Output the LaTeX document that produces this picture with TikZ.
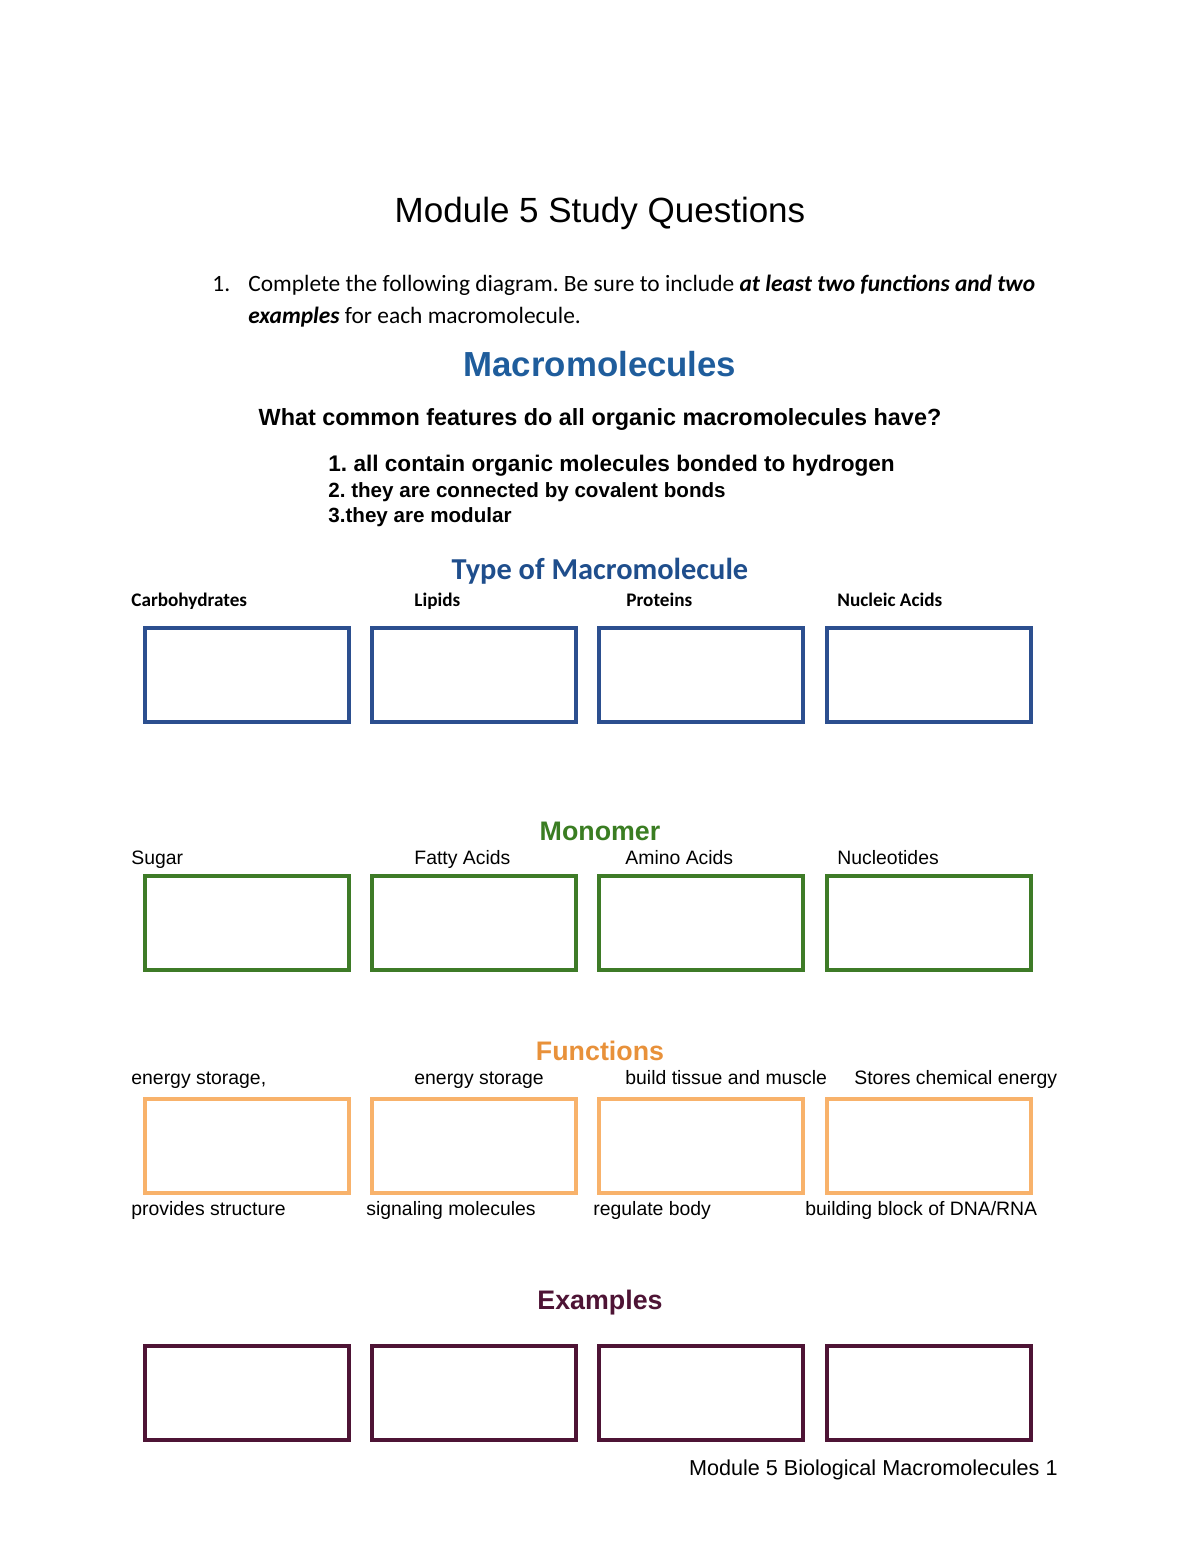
\documentclass[tikz,border=0pt]{standalone}
\usepackage{fontspec}
\setmainfont{Liberation Sans}
\newfontfamily\calfont{Carlito}
\frenchspacing
\definecolor{macroblue}{HTML}{1F5D9C}
\definecolor{typeblue}{HTML}{1F4E8C}
\definecolor{boxblue}{HTML}{2C4F8F}
\definecolor{mongreen}{HTML}{3A7D22}
\definecolor{boxgreen}{HTML}{3E7B27}
\definecolor{funorange}{HTML}{E8913A}
\definecolor{boxorange}{HTML}{F8B26B}
\definecolor{exmaroon}{HTML}{4E1435}
\tikzset{
  sheetbox/.style={draw=#1, line width=2pt, minimum width=102pt, minimum height=47pt, inner sep=0pt, outer sep=0pt},
  lab/.style={anchor=base west, inner sep=0pt, font=\fontsize{9.7}{11}\selectfont},
  clab/.style={anchor=base west, inner sep=0pt, font=\calfont\bfseries\fontsize{9.6}{11}\selectfont},
  head/.style={anchor=base, inner sep=0pt, font=\bfseries\fontsize{13.4}{15}\selectfont},
  qtext/.style={anchor=base west, inner sep=0pt, font=\calfont\fontsize{11.7}{14}\selectfont},
}
\begin{document}
\frenchspacing
\begin{tikzpicture}[x=0.5pt,y=-0.5pt]
\useasboundingbox (0,0) rectangle (1200,1553);
% title
\node[anchor=base, inner sep=0pt, font=\fontsize{17.5}{20}\selectfont] (title) at (600,222) {Module 5 Study Questions};
% question
\node[qtext] (qnum) at (212,291) {1.};
\node[qtext] (q1) at (248,291) {Complete the following diagram. Be sure to include \textbf{\textit{at least two functions and two}}};
\node[qtext] (q2) at (248,323) {\textbf{\textit{examples}} for each macromolecule.};
% macromolecules heading
\node[anchor=base, inner sep=0pt, text=macroblue, font=\bfseries\fontsize{17.4}{20}\selectfont] (macro) at (600,376) {Macromolecules};
\node[anchor=base, inner sep=0pt, font=\bfseries\fontsize{11.7}{14}\selectfont] (what) at (600,425) {What common features do all organic macromolecules have?};
\node[anchor=base west, inner sep=0pt, font=\bfseries\fontsize{11.3}{14}\selectfont] (f1) at (328,471) {1. all contain organic molecules bonded to hydrogen};
\node[anchor=base west, inner sep=0pt, font=\bfseries\fontsize{10.3}{12}\selectfont] (f2) at (328,497) {2. they are connected by covalent bonds};
\node[anchor=base west, inner sep=0pt, font=\bfseries\fontsize{10.3}{12}\selectfont] (f3) at (328,522) {3.they are modular};
% type row
\node[anchor=base, inner sep=0pt, text=typeblue, font=\calfont\bfseries\fontsize{15.2}{17}\selectfont] (typehead) at (600,579) {Type of Macromolecule};
\node[clab] (tl1) at (131,606) {Carbohydrates};
\node[clab] (tl2) at (414,606) {Lipids};
\node[clab] (tl3) at (626,606) {Proteins};
\node[clab] (tl4) at (837,606) {Nucleic Acids};
\node[sheetbox=boxblue] (t1) at (246.5,674.5) {};
\node[sheetbox=boxblue] (t2) at (474,674.5) {};
\node[sheetbox=boxblue] (t3) at (701,674.5) {};
\node[sheetbox=boxblue] (t4) at (928.5,674.5) {};
% monomer row
\node[head, text=mongreen] (monhead) at (600,840) {Monomer};
\node[lab] (ml1) at (131,864) {Sugar};
\node[lab] (ml2) at (414,864) {Fatty Acids};
\node[lab] (ml3) at (625,864) {Amino Acids};
\node[lab] (ml4) at (837,864) {Nucleotides};
\node[sheetbox=boxgreen] (m1) at (246.5,922.5) {};
\node[sheetbox=boxgreen] (m2) at (474,922.5) {};
\node[sheetbox=boxgreen] (m3) at (701,922.5) {};
\node[sheetbox=boxgreen] (m4) at (928.5,922.5) {};
% functions row
\node[head, text=funorange] (funhead) at (600,1060) {Functions};
\node[lab] (fa1) at (131,1084) {energy storage,};
\node[lab] (fa2) at (414,1084) {energy storage};
\node[lab] (fa3) at (625,1084) {build tissue and muscle};
\node[lab] (fa4) at (854,1084) {Stores chemical energy};
\node[sheetbox=boxorange] (u1) at (246.5,1145.5) {};
\node[sheetbox=boxorange] (u2) at (474,1145.5) {};
\node[sheetbox=boxorange] (u3) at (701,1145.5) {};
\node[sheetbox=boxorange] (u4) at (928.5,1145.5) {};
\node[lab] (fb1) at (131,1215) {provides structure};
\node[lab] (fb2) at (366,1215) {signaling molecules};
\node[lab] (fb3) at (593,1215) {regulate body};
\node[lab] (fb4) at (805,1215) {building block of DNA/RNA};
% examples row
\node[head, text=exmaroon] (exhead) at (600,1309) {Examples};
\node[sheetbox=exmaroon] (e1) at (246.5,1392.5) {};
\node[sheetbox=exmaroon] (e2) at (474,1392.5) {};
\node[sheetbox=exmaroon] (e3) at (701,1392.5) {};
\node[sheetbox=exmaroon] (e4) at (928.5,1392.5) {};
% footer
\node[anchor=base east, inner sep=0pt, font=\fontsize{10.8}{13}\selectfont] (footer) at (1058,1475) {Module 5 Biological Macromolecules 1};
\end{tikzpicture}
\end{document}
